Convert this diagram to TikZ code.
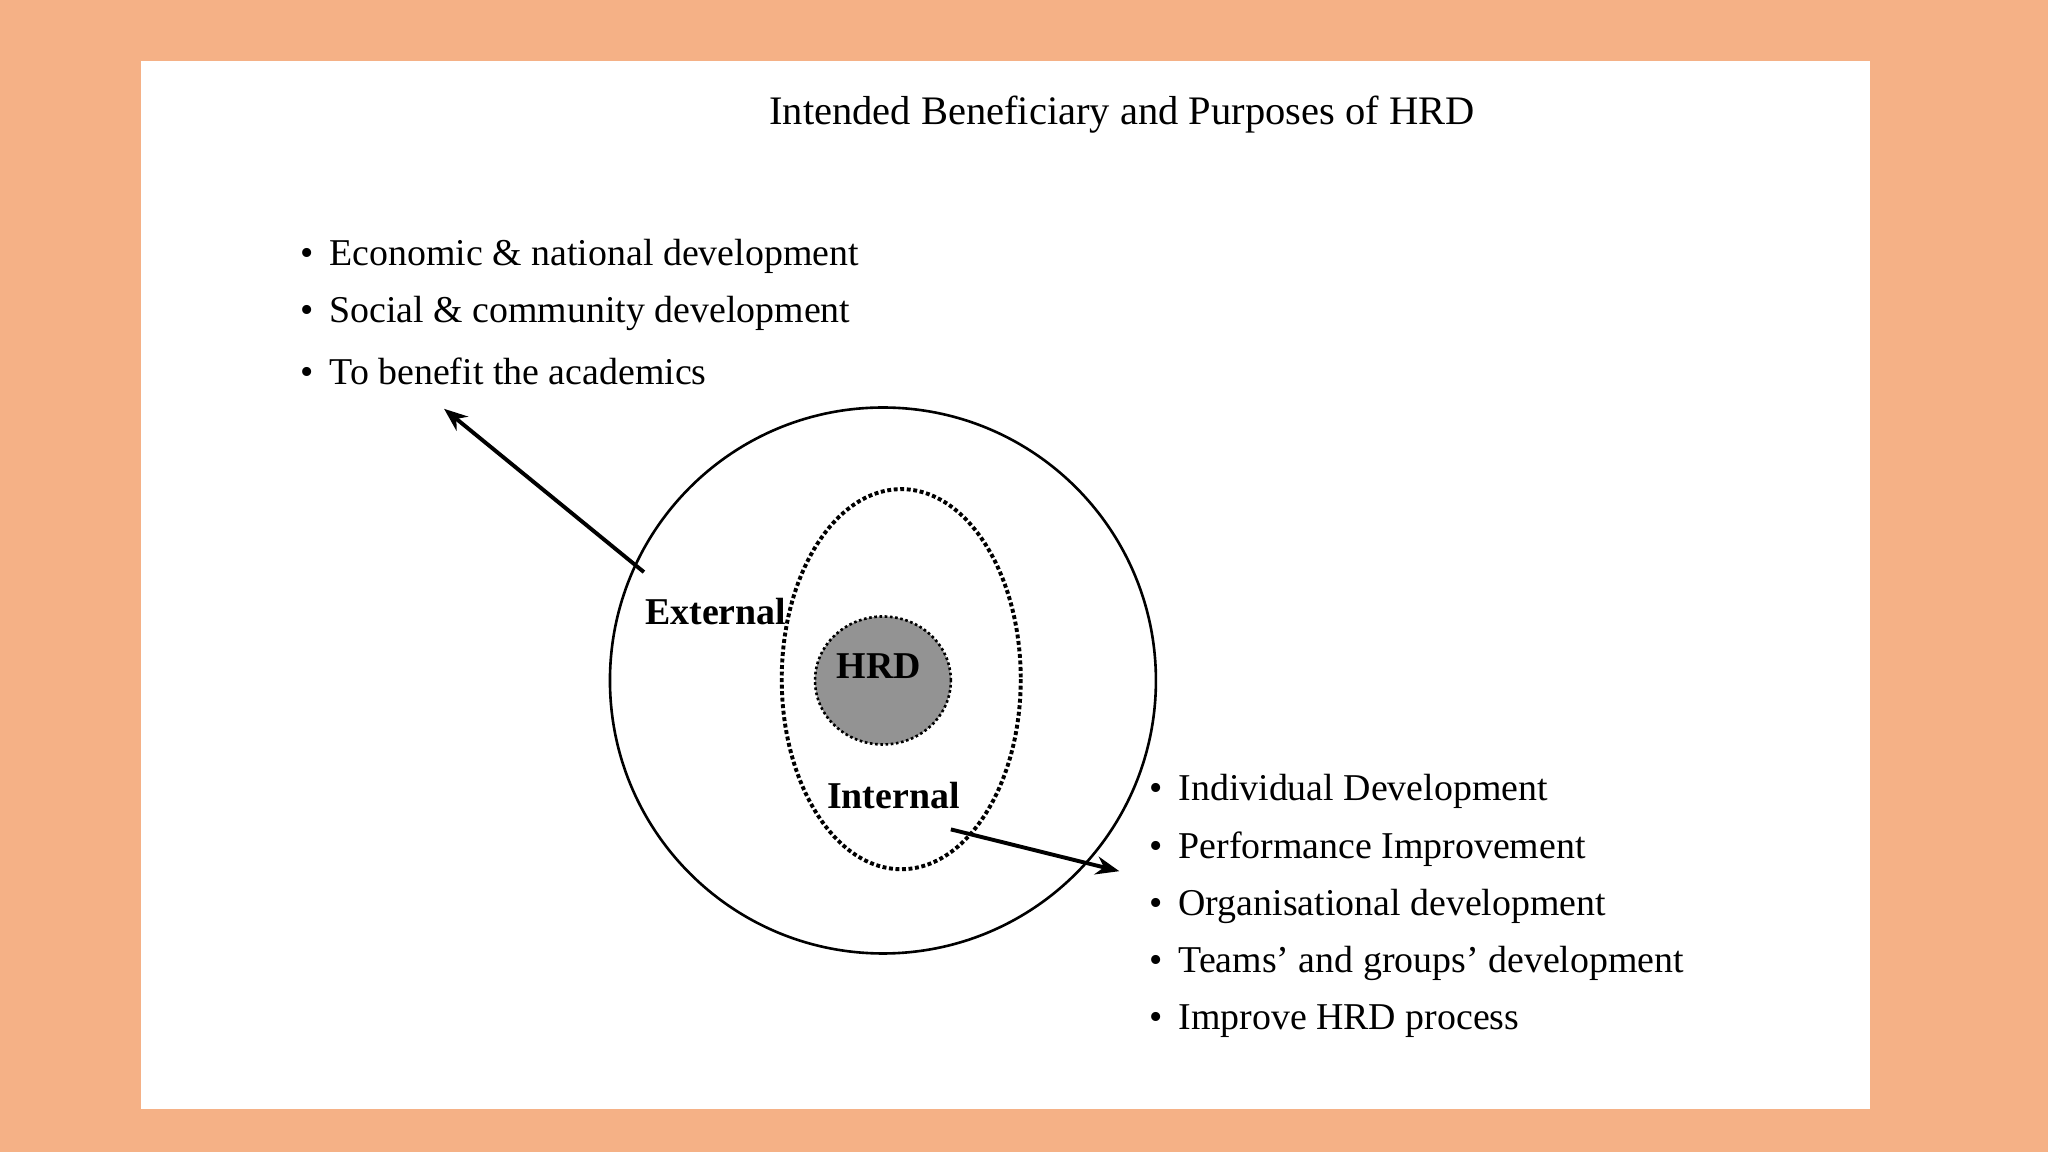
\documentclass[tikz,border=0pt]{standalone}
\usepackage{fontspec}
\setmainfont{Liberation Serif}
\usetikzlibrary{arrows.meta,shapes.geometric}
\definecolor{bgor}{RGB}{245,177,134}
\tikzset{lst/.style={anchor=west,font=\fontsize{29}{44}\selectfont,inner sep=0pt},
lbl/.style={font=\fontsize{29}{34}\selectfont\bfseries,inner sep=0pt},
arr/.style={line width=3pt,-{Stealth[length=18pt,width=14pt]}}}
\begin{document}
\begin{tikzpicture}[x=1pt,y=-1pt]
\fill[bgor] (0,0) rectangle (1568,882);
\fill[white] (108,47) rectangle (1432,849);
\node[font=\fontsize{31}{36}\selectfont,inner sep=0pt] (title) at (859,88) {Intended Beneficiary and Purposes of HRD};
\node[lst] (e1) at (230,196) {\textbullet\hspace{12pt}Economic \& national development};
\node[lst] (e2) at (230,240) {\textbullet\hspace{12pt}Social \& community development};
\node[lst] (e3) at (230,284) {\textbullet\hspace{12pt}To benefit the academics};
\node[draw,line width=2pt,circle,minimum size=418pt] (outer) at (676,521) {};
\draw[line width=3pt,dotted] (690,520) ellipse[x radius=91.5,y radius=145.5];
\node[ellipse,draw,fill=gray!85,line width=2pt,dotted,minimum width=104pt,minimum height=98pt] (hrdc) at (676,521) {};
\node[lbl] (hrd) at (673,510) {HRD};
\node[lbl] (ext) at (548,468) {External};
\node[lbl] (int) at (684,609) {Internal};
\coordinate (a1s) at (493,438); \coordinate (a1e) at (340,313);
\coordinate (a2s) at (728,635); \coordinate (a2e) at (857,667);
\draw[arr] (a1s) -- (a1e);
\draw[arr] (a2s) -- (a2e);
\node[lst] (i1) at (880,606) {\textbullet\hspace{12pt}Individual Development};
\node[lst] (i2) at (880,650) {\textbullet\hspace{12pt}Performance Improvement};
\node[lst] (i3) at (880,694) {\textbullet\hspace{12pt}Organisational development};
\node[lst] (i4) at (880,738) {\textbullet\hspace{12pt}Teams’ and groups’ development};
\node[lst] (i5) at (880,782) {\textbullet\hspace{12pt}Improve HRD process};
\end{tikzpicture}
\end{document}
